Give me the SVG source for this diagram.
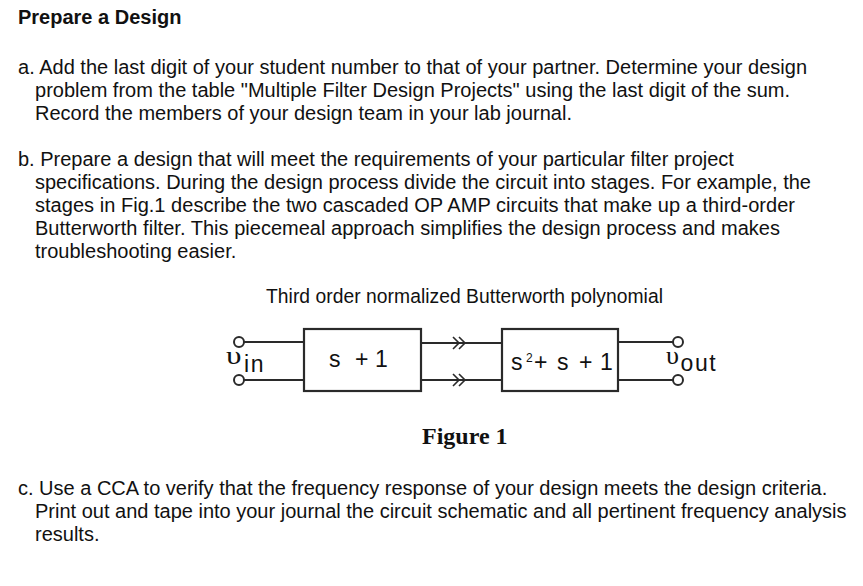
<svg xmlns="http://www.w3.org/2000/svg" width="863" height="586" viewBox="0 0 863 586">
<style>
text{font-family:"Liberation Sans",Arial,sans-serif;fill:#111}
.p{font-size:20px}
.h{font-size:20px;font-weight:bold}
.d{font-size:19.3px}
.b{font-size:23px;letter-spacing:1.6px}
.m{font-size:23px}
.n{font-family:"Liberation Serif",serif;font-size:25px}
.box{fill:#fff;stroke:#2a2a2a;stroke-width:2.2}
.w{fill:none;stroke:#2a2a2a;stroke-width:2}
.a{fill:none;stroke:#2a2a2a;stroke-width:1.6}
.c{fill:#fff;stroke:#2a2a2a;stroke-width:2}
</style>
<g id="text-top">
<text class="h" x="18" y="24">Prepare a Design</text>
<text class="p" x="18" y="74" textLength="789">a. Add the last digit of your student number to that of your partner. Determine your design</text>
<text class="p" x="35" y="97" textLength="755">problem from the table "Multiple Filter Design Projects" using the last digit of the sum.</text>
<text class="p" x="35" y="120">Record the members of your design team in your lab journal.</text>
<text class="p" x="18" y="166">b. Prepare a design that will meet the requirements of your particular filter project</text>
<text class="p" x="35" y="189">specifications. During the design process divide the circuit into stages. For example, the</text>
<text class="p" x="35" y="212" textLength="760">stages in Fig.1 describe the two cascaded OP AMP circuits that make up a third-order</text>
<text class="p" x="35" y="235" textLength="745">Butterworth filter. This piecemeal approach simplifies the design process and makes</text>
<text class="p" x="35" y="258">troubleshooting easier.</text>
<text class="d" x="266" y="303" textLength="397">Third order normalized Butterworth polynomial</text>
</g>
<g id="connectors">
<path class="w" d="M243 342H304M243 380H304M421 343H502M421 380H502M618 342H674M618 380H674"/>
<path class="a" d="M453 337l6 6-6 6M459 337l6 6-6 6M453 374l6 6-6 6M459 374l6 6-6 6"/>
</g>
<g id="vin">
<circle class="c" cx="239" cy="342" r="5"/>
<circle class="c" cx="239" cy="380" r="5"/>
<text class="n" transform="translate(226 364) scale(1.25 1)">υ</text>
<text class="b" x="244" y="372">in</text>
</g>
<g id="stage1">
<rect class="box" x="304" y="329" width="117" height="62"/>
<text class="m" x="329" y="367">s</text>
<text class="m" x="355" y="367">+</text>
<text class="m" x="375" y="367">1</text>
</g>
<g id="stage2">
<rect class="box" x="502" y="329" width="116" height="62"/>
<text class="m" x="511" y="370">s</text>
<text x="526" y="362" font-size="12">2</text>
<text class="m" x="534" y="370">+</text>
<text class="m" x="557" y="370">s</text>
<text class="m" x="579" y="370">+</text>
<text class="m" x="600" y="370">1</text>
</g>
<g id="vout">
<circle class="c" cx="678" cy="342" r="5"/>
<circle class="c" cx="678" cy="380" r="5"/>
<text class="n" transform="translate(666 364) scale(1.05 1)">υ</text>
<text class="b" x="680.5" y="371">out</text>
</g>
<g id="text-bottom">
<text x="422" y="444" font-size="24" font-weight="bold" style="font-family:'Liberation Serif',serif">Figure 1</text>
<text class="p" x="18" y="495">c. Use a CCA to verify that the frequency response of your design meets the design criteria.</text>
<text class="p" x="35" y="518">Print out and tape into your journal the circuit schematic and all pertinent frequency analysis</text>
<text class="p" x="35" y="541">results.</text>
</g>
</svg>
